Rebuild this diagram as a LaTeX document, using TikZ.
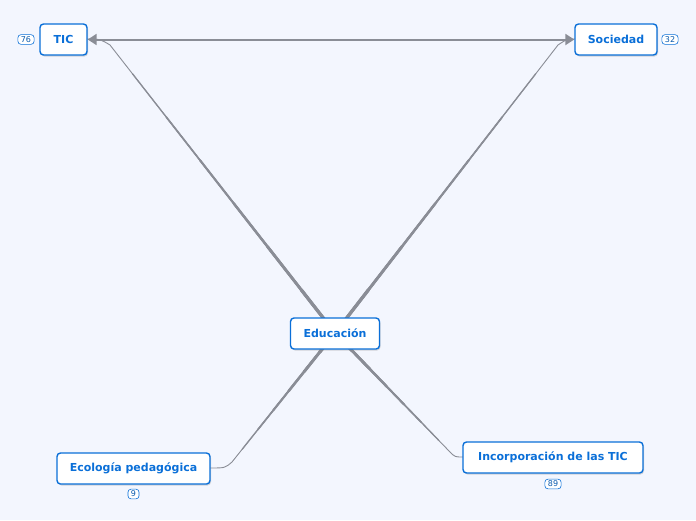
\documentclass[tikz,border=0pt]{standalone}
\usepackage{fontspec}
\setmainfont{DejaVu Sans}
\usetikzlibrary{arrows.meta,calc,shadows}
\definecolor{bg}{HTML}{F3F6FE}
\definecolor{bl}{HTML}{0A6FD8}
\definecolor{ln}{HTML}{8A8D96}
\tikzset{
 topic/.style={draw=bl,line width=1.4pt,fill=white,rounded corners=3.5pt,font=\bfseries\fontsize{11}{12}\selectfont,text=bl,minimum height=31pt,inner xsep=2pt,drop shadow={shadow xshift=1pt,shadow yshift=-1.5pt,opacity=0.3}},
 badge/.style={draw=bl,line width=0.6pt,fill=white,rounded corners=3pt,font=\fontsize{8}{9}\selectfont,text=bl!80!black,inner xsep=3pt,inner ysep=1.8pt},
 conn/.style={draw=ln,line cap=round},
}
\begin{document}
\begin{tikzpicture}[x=1pt,y=-1pt]
\fill[bg] (0,0) rectangle (696,520);
\useasboundingbox (0,0) rectangle (696,520);
\foreach \ex/\ey/\cx/\cy/\tx/\ty in {110/45/100/39/87/39, 558/45/567/39/575/39, 232/462/225/468/210/468, 450/452/455/457/463/457}{
  \draw[conn,line width=0.9pt] (335,333) -- (\ex,\ey) .. controls (\cx,\cy) .. (\tx,\ty);
  \foreach \f/\w in {0.9/1.3,0.75/1.7,0.6/2.1,0.45/2.5,0.3/2.9,0.15/3.3}{
    \draw[conn,line width=\w pt] (335,333) -- ($(335,333)!\f!(\ex,\ey)$);
  }
}
\node[topic,minimum width=47pt] (tic) at (63.5,39.5) {TIC};
\node[topic,minimum width=82pt] (soc) at (616,39.5) {Sociedad};
\node[topic,minimum width=89pt] (edu) at (335,333.5) {Educación};
\node[topic,minimum width=153pt] (eco) at (133.5,468.5) {Ecología pedagógica};
\node[topic,minimum width=180pt] (inc) at (553,457.5) {Incorporación de las TIC};
\draw[ln,line width=2pt,{Triangle[length=9pt,width=11pt]}-{Triangle[length=9pt,width=11pt]}] (tic.east) -- (soc.west);
\node[badge] (b1) at (26,39.5) {76};
\node[badge] (b2) at (670,39.5) {32};
\node[badge] (b3) at (133.5,494) {9};
\node[badge] (b4) at (553,484) {89};
\end{tikzpicture}
\end{document}
